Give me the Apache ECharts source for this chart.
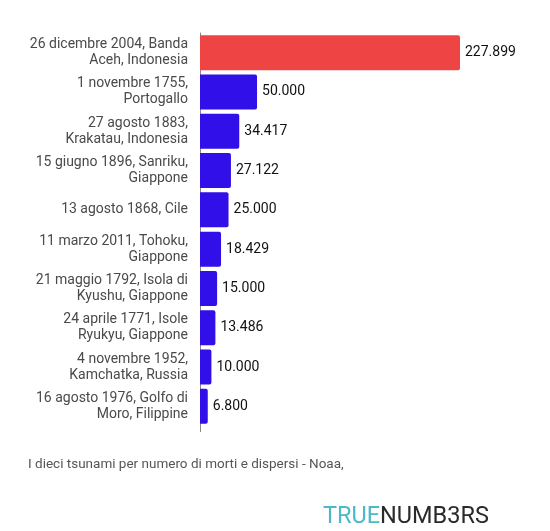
<!DOCTYPE html>
<html>
<head>
<meta charset="utf-8">
<script src="https://cdn.jsdelivr.net/npm/echarts@6/dist/echarts.min.js"></script>
<style>html,body{margin:0;padding:0;background:#fff}#c{width:550px;height:531px}</style>
</head>
<body>
<div id="c"></div>
<script>
const categories = [
  "26 dicembre 2004, Banda\nAceh, Indonesia",
  "1 novembre 1755,\nPortogallo",
  "27 agosto 1883,\nKrakatau, Indonesia",
  "15 giugno 1896, Sanriku,\nGiappone",
  "13 agosto 1868, Cile",
  "11 marzo 2011, Tohoku,\nGiappone",
  "21 maggio 1792, Isola di\nKyushu, Giappone",
  "24 aprile 1771, Isole\nRyukyu, Giappone",
  "4 novembre 1952,\nKamchatka, Russia",
  "16 agosto 1976, Golfo di\nMoro, Filippine"
];
const values = [227899, 50000, 34417, 27122, 25000, 18429, 15000, 13486, 10000, 6800];
const highlight = [true, false, false, false, false, false, false, false, false, false];
const source = "I dieci tsunami per numero di morti e dispersi - Noaa,";

const fmt = v => String(v).replace(/\B(?=(\d{3})+(?!\d))/g, ".");

const chart = echarts.init(document.getElementById('c'), null, {renderer: 'canvas'});
chart.setOption({
  animation: false,
  backgroundColor: '#ffffff',
  textStyle: {fontFamily: 'Roboto'},
  grid: {left: 200, top: 33, width: 260, height: 393, containLabel: false},
  xAxis: {
    type: 'value', min: 0, max: 227899,
    show: false
  },
  yAxis: {
    type: 'category', inverse: true, data: categories,
    axisLine: {show: true, lineStyle: {color: '#8a8a8a', width: 1}},
    axisTick: {show: false},
    axisLabel: {color: '#4a4a4a', fontSize: 14, fontFamily: 'Roboto', lineHeight: 16, margin: 12, align: 'right'}
  },
  series: [{
    type: 'bar',
    barCategoryGap: '11%',
    data: values.map((v, i) => ({value: v, itemStyle: {color: highlight[i] ? '#EF4444' : '#300FE8'}})),
    itemStyle: {borderRadius: [0, 2, 2, 0]},
    label: {show: true, position: 'right', distance: 5, color: '#111', fontSize: 14, fontFamily: 'Roboto',
      formatter: p => fmt(p.value)}
  }],
  graphic: [
    {type: 'line', shape: {x1: 200.5, y1: 424, x2: 200.5, y2: 432}, style: {stroke: '#8a8a8a', lineWidth: 1}},
    {type: 'text', left: 28, top: 458, style: {text: source, fill: '#555', font: '13.5px Roboto'}},
    {type: 'text', left: 323, top: 505, style: {
      text: '{a|TRUE}{b|NUMB3RS}',
      rich: {
        a: {fill: '#4DB8C8', fontSize: 23.5, fontFamily: 'Roboto', fontWeight: 'normal'},
        b: {fill: '#2a2a2a', fontSize: 23.5, fontFamily: 'Roboto', fontWeight: 'normal'}
      }
    }}
  ]
});
</script>
</body>
</html>
